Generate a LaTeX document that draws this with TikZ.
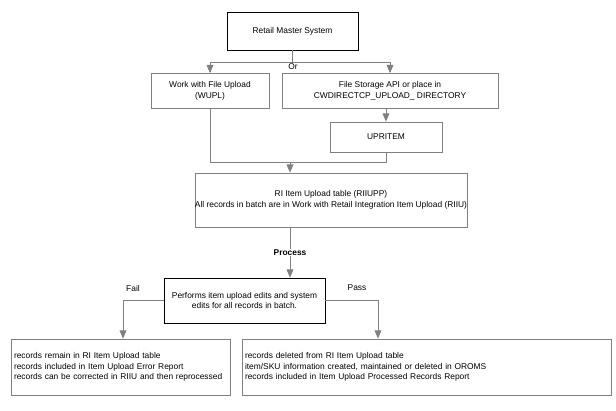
\documentclass[tikz,border=0pt]{standalone}
\usepackage{fontspec}
\setmainfont{Liberation Sans}
\usetikzlibrary{arrows}

\begin{document}
\begin{tikzpicture}[x=1pt,y=-1pt,font=\fontsize{8.4}{10.5}\selectfont,
  box/.style={draw=gray,line width=.7pt,fill=white,align=center,inner sep=0pt},
  keybox/.style={draw=black,line width=.7pt,fill=white,align=center,inner sep=0pt},
  link/.style={gray,line width=.9pt},
  arr/.style={link,-triangle 45}]

        \useasboundingbox (0,0) rectangle (616,410);

        \node (master) at (292.5,31) [keybox, minimum width=131pt, minimum height=38pt] {Retail Master System};
        \node (wupl) at (210,91) [box, minimum width=118pt, minimum height=35pt] {Work with File Upload\\(WUPL)};
        \node (storage) at (390,91) [box, minimum width=216pt, minimum height=35pt] {File Storage API or place in\\CWDIRECTCP\_UPLOAD\_ DIRECTORY};
        \node (upritem) at (386,137) [box, minimum width=112pt, minimum height=30pt] {UPRITEM};
        \node (riupp) at (331,200) [box, minimum width=268pt, minimum height=54pt] {RI Item Upload table (RIIUPP)\\All records in batch are in Work with Retail Integration Item Upload (RIIU)};
        \node (edits) at (244.5,300.5) [keybox, minimum width=161pt, minimum height=45pt] {Performs item upload edits and system\\edits for all records in batch.};
        \node (fail) at (120.5,367) [box, minimum width=219pt, minimum height=56pt, align=left, text width=213pt] {records remain in RI Item Upload table\\records included in Item Upload Error Report\\records can be corrected in RIIU and then reprocessed};
        \node (pass) at (426.5,367) [box, minimum width=369pt, minimum height=56pt, align=left, text width=363pt] {records deleted from RI Item Upload table\\item/SKU information created, maintained or deleted in OROMS\\records included in Item Upload Processed Records Report};

        \coordinate (split) at (292.5,62);
        \coordinate (join) at (290,162);
        \coordinate (failbend) at (123,300);
        \coordinate (passbend) at (378,300);

        \draw[link] (master) -- (split);
        \draw[arr] (split) -| (wupl.north);
        \draw[arr] (split) -| (storage.north);
        \draw[arr] (storage.south -| upritem) -- (upritem);
        \draw[link] (wupl.south) |- (join);
        \draw[link] (upritem.south) |- (join);
        \draw[arr] (join) -- (join |- riupp.north);
        \draw[arr] (riupp.south -| join) -- (edits.north -| join) node[midway, fill=white, inner sep=1pt, text=black, font=\fontsize{8.4}{10.5}\selectfont\bfseries] {Process};
        \draw[arr] (edits.west |- failbend) -- (failbend) -- (fail.north -| failbend);
        \draw[arr] (edits.east |- passbend) -- (passbend) -- (pass.north -| passbend);

        \node (or) at (293,67) [fill=white, inner sep=1pt] {Or};
        \node (faillabel) at (133,288) {Fail};
        \node (passlabel) at (357,288) {Pass};
\end{tikzpicture}
\end{document}
